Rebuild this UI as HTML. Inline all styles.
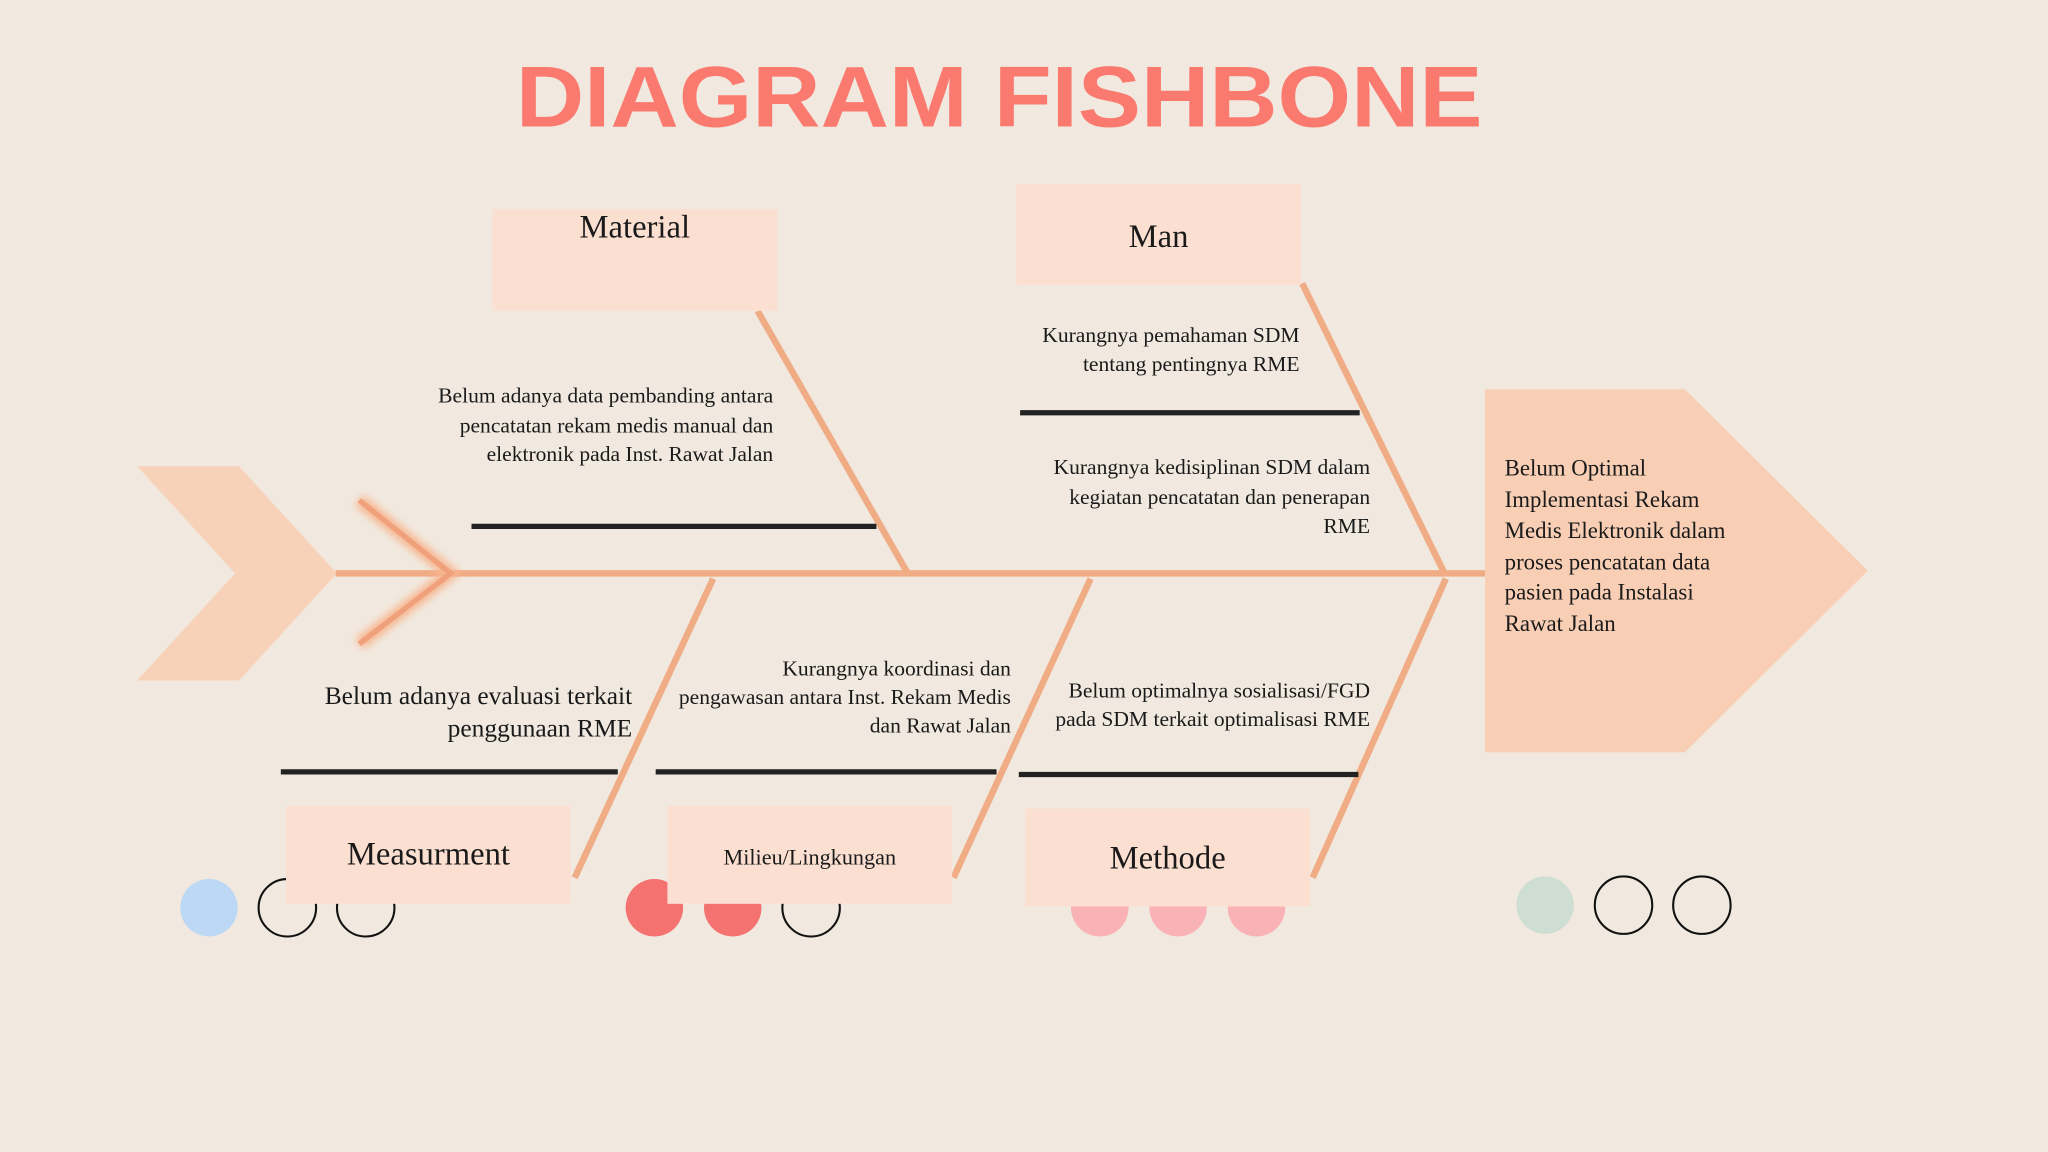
<!DOCTYPE html>
<html><head><meta charset="utf-8"><style>
html,body{margin:0;padding:0;background:#f1e9df;}
svg{display:block}
text{font-family:"Liberation Serif",serif;fill:#1a1a1a}
</style></head><body>
<svg width="2048" height="1152" viewBox="0 0 1568 882" xmlns="http://www.w3.org/2000/svg">
<defs><filter id="g" x="-50%" y="-50%" width="200%" height="200%"><feGaussianBlur stdDeviation="3"/></filter></defs>
<rect width="1568" height="882" fill="#f1e9df"/>
<text x="765" y="97" text-anchor="middle" font-family="Liberation Sans, sans-serif" font-weight="bold" font-size="66" textLength="740" lengthAdjust="spacingAndGlyphs" style="fill:#fb7a6f;font-family:'Liberation Sans',sans-serif">DIAGRAM FISHBONE</text>
<!-- circles (behind boxes) -->
<g stroke="#111" stroke-width="1.6">
<circle cx="160" cy="695" r="22" fill="#bcd8f5" stroke="none"/>
<circle cx="220" cy="695" r="22" fill="none"/>
<circle cx="280" cy="695" r="22" fill="none"/>
<circle cx="501" cy="695" r="22" fill="#f47270" stroke="none"/>
<circle cx="561" cy="695" r="22" fill="#f47270" stroke="none"/>
<circle cx="621" cy="695" r="22" fill="none"/>
<circle cx="842" cy="695" r="22" fill="#f9b2b5" stroke="none"/>
<circle cx="902" cy="695" r="22" fill="#f9b2b5" stroke="none"/>
<circle cx="962" cy="695" r="22" fill="#f9b2b5" stroke="none"/>
<circle cx="1183" cy="693" r="22" fill="#cfded2" stroke="none"/>
<circle cx="1243" cy="693" r="22" fill="none"/>
<circle cx="1303" cy="693" r="22" fill="none"/>
</g>
<!-- chevrons -->
<polygon points="105,357 183,357 258,439 183,521 105,521 180,439" fill="#f8d2b8"/>
<polygon points="1137,298 1290,298 1430,437 1290,576 1137,576" fill="#f8cfb5"/>
<!-- spine & bones -->
<g stroke="#f0ac85" stroke-width="5" fill="none">
<line x1="257" y1="439" x2="1137" y2="439"/>
<line x1="580" y1="238" x2="695" y2="439"/>
<line x1="997" y1="217" x2="1106" y2="439"/>
<line x1="546" y1="443" x2="440" y2="672"/>
<line x1="835" y1="443" x2="730" y2="672"/>
<line x1="1107" y1="443" x2="1005" y2="672"/>
</g>
<polyline points="275,383 345,439 275,493" fill="none" stroke="#f7b58f" stroke-width="10" filter="url(#g)"/>
<polyline points="275,383 345,439 275,493" fill="none" stroke="#f0a07a" stroke-width="4"/>
<!-- boxes -->
<g fill="#fbe0d2">
<rect x="377" y="160" width="218" height="78"/>
<rect x="778" y="141" width="218" height="77"/>
<rect x="219" y="617" width="218" height="75"/>
<rect x="511" y="617" width="218" height="75"/>
<rect x="785" y="619" width="218" height="75"/>
</g>
<!-- black lines -->
<g stroke="#222" stroke-width="4">
<line x1="361" y1="403" x2="671" y2="403"/>
<line x1="781" y1="316" x2="1041" y2="316"/>
<line x1="215" y1="591" x2="473" y2="591"/>
<line x1="502" y1="591" x2="763" y2="591"/>
<line x1="780" y1="593" x2="1040" y2="593"/>
</g>
<!-- labels -->
<text x="486" y="182" text-anchor="middle" font-size="25">Material</text>
<text x="887" y="189" text-anchor="middle" font-size="25">Man</text>
<text x="328" y="662" text-anchor="middle" font-size="25">Measurment</text>
<text x="620" y="662" text-anchor="middle" font-size="17">Milieu/Lingkungan</text>
<text x="894" y="665" text-anchor="middle" font-size="25">Methode</text>
<g font-size="16.5" text-anchor="end">
<text x="592" y="308">Belum adanya data pembanding antara</text>
<text x="592" y="331">pencatatan rekam medis manual dan</text>
<text x="592" y="353">elektronik pada Inst. Rawat Jalan</text>
<text x="995" y="262">Kurangnya pemahaman SDM</text>
<text x="995" y="284">tentang  pentingnya RME</text>
<text x="1049" y="363">Kurangnya kedisiplinan SDM dalam</text>
<text x="1049" y="386">kegiatan pencatatan dan penerapan</text>
<text x="1049" y="408">RME</text>
<text x="774" y="517">Kurangnya koordinasi dan</text>
<text x="774" y="539">pengawasan antara Inst. Rekam Medis</text>
<text x="774" y="561">dan Rawat Jalan</text>
<text x="1049" y="534">Belum optimalnya sosialisasi/FGD</text>
<text x="1049" y="556">pada SDM terkait optimalisasi RME</text>
</g>
<g font-size="19.5" text-anchor="end">
<text x="484" y="539">Belum adanya evaluasi terkait</text>
<text x="484" y="564">penggunaan RME</text>
</g>
<g font-size="17.5">
<text x="1152" y="364">Belum Optimal</text>
<text x="1152" y="388">Implementasi Rekam</text>
<text x="1152" y="412">Medis Elektronik dalam</text>
<text x="1152" y="436">proses pencatatan data</text>
<text x="1152" y="459">pasien pada Instalasi</text>
<text x="1152" y="483">Rawat Jalan</text>
</g>
</svg>
</body></html>
